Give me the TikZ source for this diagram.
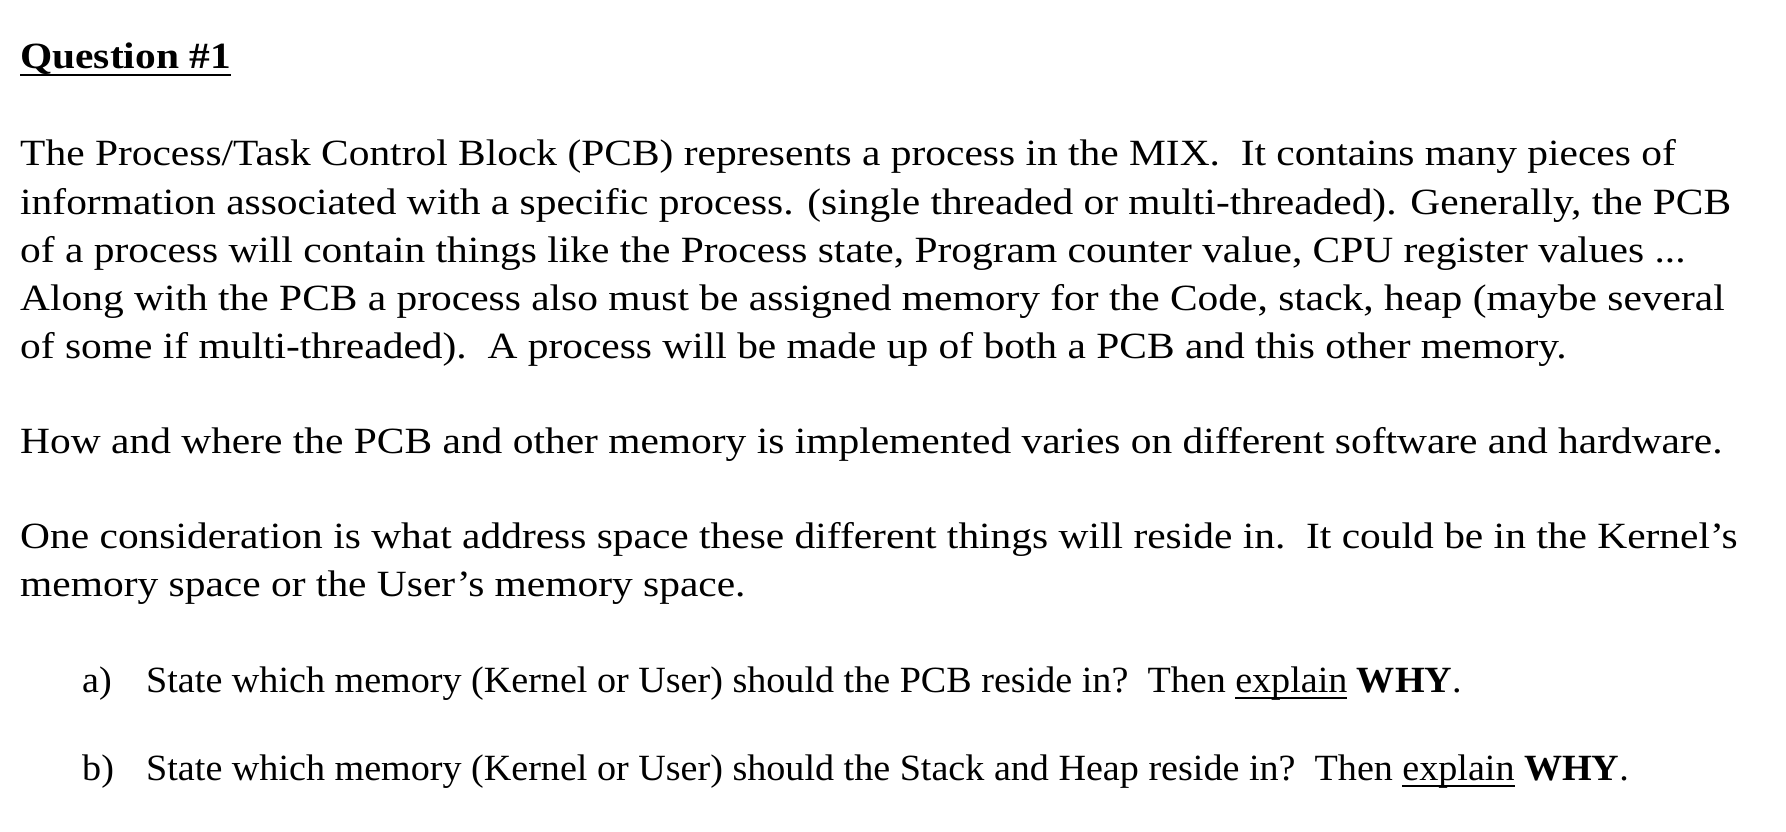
\documentclass[tikz,border=0pt]{standalone}
\usepackage{fontspec}
\setmainfont{Liberation Serif}
\newcommand{\ul}[1]{\setbox0\hbox{#1}\rlap{\rule[-7pt]{\wd0}{2.2pt}}\box0}
\begin{document}
\begin{tikzpicture}[x=1pt,y=-1pt,
  ln/.style={anchor=base west,inner sep=0pt,xscale=1.12,transform shape,font=\fontsize{37}{44}\selectfont},
  qn/.style={anchor=base west,inner sep=0pt,xscale=1.03,transform shape,font=\fontsize{37}{44}\selectfont}]
\useasboundingbox (0,0) rectangle (1786,832);
\node[ln] (q) at (20,69) {\textbf{\ul{Question \#1}}};
\node[ln] (l1) at (20,166) {The Process/Task Control Block (PCB) represents a process in the MIX.\ \ It contains many pieces of};
\node[ln] (l2) at (20,214) {information associated with a specific process. (single threaded or multi-threaded). Generally, the PCB};
\node[ln] (l3) at (20,262) {of a process will contain things like the Process state, Program counter value, CPU register values ...};
\node[ln] (l4) at (20,310) {Along with the PCB a process also must be assigned memory for the Code, stack, heap (maybe several};
\node[ln] (l5) at (20,358) {of some if multi-threaded).\ \ A process will be made up of both a PCB and this other memory.};
\node[ln] (h) at (20,453) {How and where the PCB and other memory is implemented varies on different software and hardware.};
\node[ln] (o1) at (20,548) {One consideration is what address space these different things will reside in.\ \ It could be in the Kernel’s};
\node[ln] (o2) at (20,596) {memory space or the User’s memory space.};
\node[qn] (a) at (82,692) {a)};
\node[qn] (at) at (146,692) {State which memory (Kernel or User) should the PCB reside in?\ \ Then \ul{explain}\ \textbf{WHY}.};
\node[qn] (b) at (82,780) {b)};
\node[qn] (bt) at (146,780) {State which memory (Kernel or User) should the Stack and Heap reside in?\ \ Then \ul{explain}\ \textbf{WHY}.};
\end{tikzpicture}
\end{document}
